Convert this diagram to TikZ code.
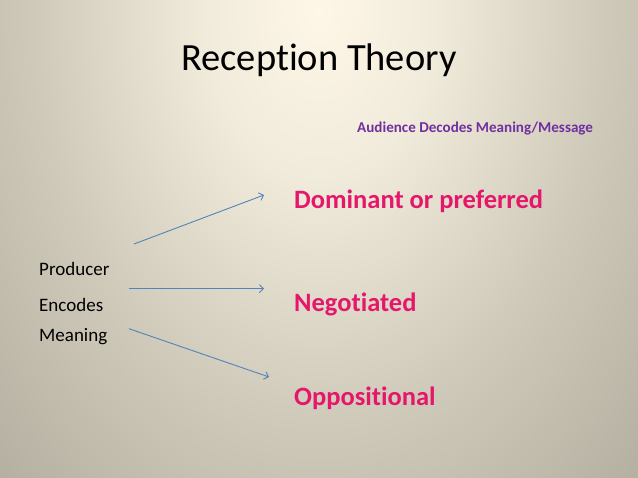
\documentclass[tikz,border=0pt]{standalone}
\usepackage{fontspec}
\setmainfont{Carlito}[Ligatures={NoCommon}]
\usetikzlibrary{arrows.meta}
\definecolor{bgc0}{HTML}{FEF7E7}
\definecolor{bgc1}{HTML}{F1EBDB}
\definecolor{bgc2}{HTML}{CFC9BA}
\definecolor{bgc3}{HTML}{ADA899}
\definecolor{bgc4}{HTML}{8E897C}
\definecolor{pinktxt}{HTML}{E5176B}
\definecolor{purptxt}{HTML}{7030A0}
\definecolor{arrowc}{HTML}{5283BC}
\pgfdeclareradialshading{bgshade}{\pgfpoint{0bp}{0bp}}{color(0bp)=(bgc0); color(8bp)=(bgc1); color(20bp)=(bgc2); color(35bp)=(bgc3); color(50bp)=(bgc4)}
\tikzset{
  titletxt/.style={anchor=base west, inner sep=0pt, font=\fontsize{38.5}{44}\selectfont, text=black},
  subtxt/.style={anchor=base west, inner sep=0pt, font=\bfseries\fontsize{15.1}{18}\selectfont, text=purptxt},
  readtxt/.style={anchor=base west, inner sep=0pt, font=\bfseries\fontsize{26.5}{31}\selectfont, text=pinktxt},
  lefttxt/.style={anchor=base west, inner sep=0pt, font=\fontsize{19}{23}\selectfont, text=black},
  flow/.style={draw=arrowc, line width=0.9pt, -{Straight Barb[length=4pt,width=8pt]}}
}
\begin{document}
\begin{tikzpicture}[x=1pt,y=-1pt]
\useasboundingbox (0,0) rectangle (638,478);
\begin{scope}
\clip (0,0) rectangle (638,478);
\shade[shading=bgshade] (319-360,10-520) rectangle (319+360,10+520);
\end{scope}
\node[titletxt] (title) at (181,71) {Reception Theory};
\node[subtxt] (aud) at (357,132.5) {Audience Decodes Meaning/Message};
\node[readtxt] (dom) at (294,209) {Dominant or preferred};
\node[readtxt] (neg) at (294,312) {Negotiated};
\node[readtxt] (opp) at (294,406) {Oppositional};
\node[lefttxt] (prod) at (39,276) {Producer};
\node[lefttxt] (enc) at (39,312) {Encodes};
\node[lefttxt] (mean) at (39,342) {Meaning};
\coordinate (a1s) at (134,244);
\coordinate (a1e) at (264,195);
\coordinate (a2s) at (129,288.7);
\coordinate (a2e) at (264,288.7);
\coordinate (a3s) at (129,328.7);
\coordinate (a3e) at (269,377);
\draw[flow] (a1s) -- (a1e);
\draw[flow] (a2s) -- (a2e);
\draw[flow] (a3s) -- (a3e);
\end{tikzpicture}
\end{document}
